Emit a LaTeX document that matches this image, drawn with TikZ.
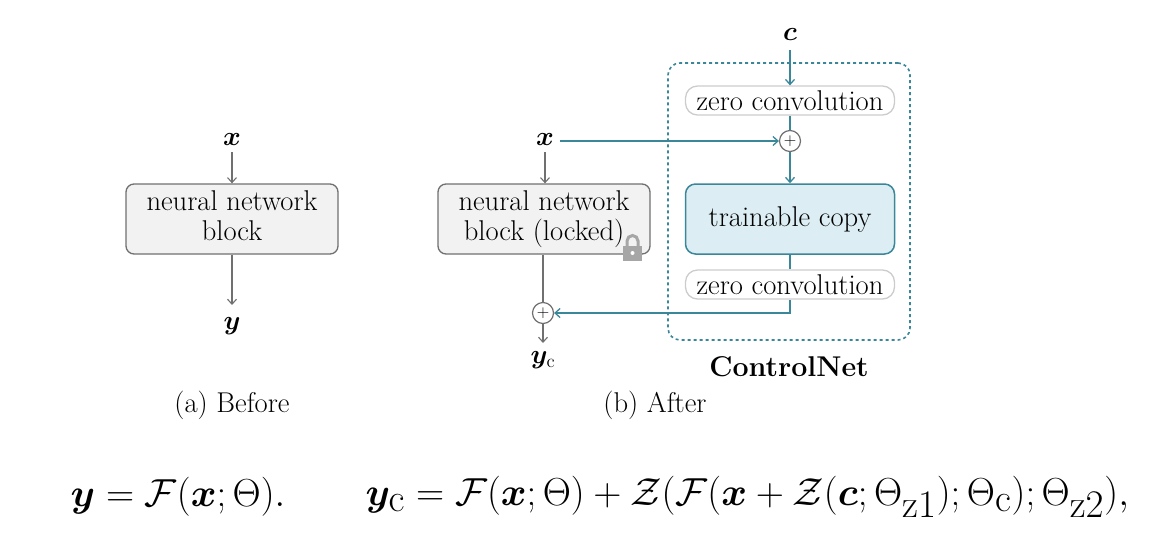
\documentclass[tikz,border=0pt]{standalone}
\usepackage{graphicx}
\usepackage{amsmath,amssymb,bm}
\usetikzlibrary{arrows.meta}
\definecolor{teal1}{HTML}{3B879A}
\definecolor{gr}{HTML}{707070}
\definecolor{lb}{HTML}{DCEEF3}
\newcommand{\bigt}[1]{\scalebox{1.3}{#1}}
\begin{document}
\begin{tikzpicture}[x=1pt,y=-1pt,
  blk/.style={draw=gr,fill=gray!10,rounded corners=8pt,line width=1.3pt,minimum width=212pt,minimum height=70pt,font=\fontsize{22}{25}\selectfont,inner sep=0pt},
  zc/.style={draw=gray!40,rounded corners=12pt,line width=1.3pt,minimum width=209pt,minimum height=29pt,font=\fontsize{22}{25}\selectfont,inner sep=0pt},
  tr/.style={draw=teal1,fill=lb,rounded corners=10pt,line width=1.5pt,minimum width=209pt,minimum height=70pt,font=\fontsize{22}{25}\selectfont},
  pl/.style={circle,draw=gr,line width=1.2pt,minimum size=21pt,inner sep=0pt,font=\fontsize{16}{16}\selectfont},
  lab/.style={font=\fontsize{22}{25}\selectfont},
  ga/.style={draw=gr,line width=1.1pt,-{Straight Barb[length=5pt,width=9pt]}},
  ta/.style={draw=teal1,line width=1.3pt,-{Straight Barb[length=5pt,width=9pt]}},
  tl/.style={draw=teal1,line width=1.3pt}]
\useasboundingbox (0,0) rectangle (1156,544);
% (a)
\node[lab] (xa) at (232,140) {\bigt{$\bm{x}$}};
\node[blk] (ba) at (232,219) {\bigt{\begin{tabular}{@{}c@{}}neural network\\[-2pt]block\end{tabular}}};
\node[lab] (ya) at (232,326) {\bigt{$\bm{y}$}};
\draw[ga] (232,152) -- (ba.north);
\draw[ga] (ba.south) -- (232,305);
\node[lab] (capa) at (232,405) {\bigt{(a) Before}};
% (b)
\node[draw=teal1,dash pattern=on 3pt off 3pt,line width=1.6pt,rounded corners=12pt,minimum width=242pt,minimum height=277pt] (cn) at (789,201.5) {};
\node[lab] (cnl) at (789,367) {\bigt{\bfseries ControlNet}};
\node[lab] (xb) at (545,140) {\bigt{$\bm{x}$}};
\node[blk] (bb) at (544,219) {\bigt{\begin{tabular}{@{}c@{}}neural network\\[-2pt]block (locked)\end{tabular}}};
\node[pl] (pb) at (543,313) {$+$};
\node[lab] (yb) at (543,360) {\bigt{$\bm{y}_{\mathrm{c}}$}};
\draw[ga] (545,152) -- (bb.north -| xb);
\draw[gr,line width=1.1pt] (bb.south -| pb) -- (pb.north);
\draw[ga] (pb.south) -- (543,343);
\node[lab] (capb) at (655,405) {\bigt{(b) After}};
% lock
\node (lock) at (632,249) {};
\fill[gray!70] (623,246) rectangle (642,261);
\draw[gray!70,line width=3pt] (627,247) -- (627,241) arc[start angle=180,end angle=0,radius=5.5pt] -- (638,247);
\fill[white] (632.5,253) circle (2pt);
% controlnet
\node[lab] (c) at (790,35) {\bigt{$\bm{c}$}};
\node[zc] (z1) at (790,100.5) {\bigt{zero convolution}};
\node[pl] (pc) at (790,141) {$+$};
\node[tr] (t) at (790,219) {\bigt{trainable copy}};
\node[zc] (z2) at (790,284.5) {\bigt{zero convolution}};
\draw[ta] (790,50) -- (z1.north);
\draw[tl] (z1.south) -- (pc.north);
\draw[ta] (560,141) -- (pc.west);
\draw[ta] (pc.south) -- (t.north);
\draw[tl] (t.south) -- (z2.north);
\draw[ta] (z2.south) -- (pc |- pb) -- (pb.east);
% equations
\node[font=\fontsize{33}{36}\selectfont] (e1) at (178,497) {\scalebox{1.57}{$\bm{y}=\mathcal{F}(\bm{x};\Theta).$}};
\node[font=\fontsize{33}{36}\selectfont,anchor=west] (e2) at (362,497) {\scalebox{1.57}{$\bm{y}_{\mathrm{c}}=\mathcal{F}(\bm{x};\Theta)+\mathcal{Z}(\mathcal{F}(\bm{x}+\mathcal{Z}(\bm{c};\Theta_{\mathrm{z1}});\Theta_{\mathrm{c}});\Theta_{\mathrm{z2}}),$}};
\end{tikzpicture}
\end{document}
